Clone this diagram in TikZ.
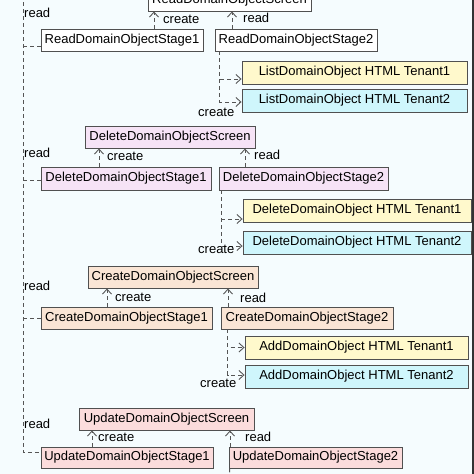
\documentclass[tikz,border=0pt]{standalone}
\usepackage{fontspec}
\setmainfont{Liberation Sans}
\usetikzlibrary{arrows.meta}
\definecolor{bgc}{HTML}{F5FCFE}
\definecolor{bordc}{HTML}{505050}
\definecolor{depc}{HTML}{555555}
\definecolor{delc}{HTML}{F6E3F6}
\definecolor{crec}{HTML}{FAE5D5}
\definecolor{updc}{HTML}{FBDCDC}
\definecolor{tone}{HTML}{FFF9CC}
\definecolor{ttwo}{HTML}{CFF6FC}
\begin{document}
\begin{tikzpicture}[x=1pt,y=-1pt,
  box/.style={draw=bordc, line width=0.9pt, inner sep=0pt, font=\fontsize{13}{15}\selectfont, minimum height=22pt},
  dep/.style={draw=depc, dash pattern=on 4pt off 3pt, line width=0.9pt},
  deparrow/.style={dep, -{Straight Barb[length=5pt,width=9pt]}},
  lbl/.style={font=\fontsize{13}{15}\selectfont, inner sep=0pt, anchor=west}]
\fill[bgc] (0,0) rectangle (474,474);
\useasboundingbox (0,0) rectangle (474,474);
\draw[line width=2pt, black!80] (473,0) -- (473,474);

% ---------- Read ----------
\node[box, fill=white, minimum width=163pt] (rs) at (229.5,0) {ReadDomainObjectScreen};
\node[box, fill=white, minimum width=162pt] (r1) at (122,40) {ReadDomainObjectStage1};
\node[box, fill=white, minimum width=162pt] (r2) at (296,40) {ReadDomainObjectStage2};
\node[box, fill=tone, minimum width=225pt, minimum height=23pt] (rt1) at (354.5,72.5) {ListDomainObject HTML Tenant1};
\node[box, fill=ttwo, minimum width=225pt, minimum height=23pt] (rt2) at (354.5,100.5) {ListDomainObject HTML Tenant2};
\draw[deparrow] ([xshift=32pt]r1.north) -- ([xshift=32pt]r1.north |- rs.south);
\draw[deparrow] ([xshift=-64pt]r2.north) -- ([xshift=-64pt]r2.north |- rs.south);
\draw[deparrow] ([xshift=5pt]r2.south west) |- ([yshift=-6.5pt]rt1.west);
\draw[deparrow] ([xshift=5pt]r2.south west) |- ([yshift=-1.5pt]rt2.west);
\node[lbl] (lr1) at (24,13) {read};
\node[lbl] (lr2) at (163,19) {create};
\node[lbl] (lr3) at (243,18) {read};
\node[lbl] (lr4) at (198,112) {create};

% ---------- Delete ----------
\node[box, fill=delc, minimum width=170pt] (ds) at (170,137) {DeleteDomainObjectScreen};
\node[box, fill=delc, minimum width=170pt, minimum height=23pt] (d1) at (126,178.5) {DeleteDomainObjectStage1};
\node[box, fill=delc, minimum width=169pt, minimum height=23pt] (d2) at (303.5,178.5) {DeleteDomainObjectStage2};
\node[box, fill=tone, minimum width=228pt, minimum height=23pt] (dt1) at (357,210.5) {DeleteDomainObject HTML Tenant1};
\node[box, fill=ttwo, minimum width=228pt, minimum height=23pt] (dt2) at (357,242.5) {DeleteDomainObject HTML Tenant2};
\draw[deparrow] ([xshift=-27pt]d1.north) -- ([xshift=-27pt]d1.north |- ds.south);
\draw[deparrow] ([xshift=-58.5pt]d2.north) -- ([xshift=-58.5pt]d2.north |- ds.south);
\draw[deparrow] ([xshift=3pt]d2.south west) |- ([yshift=-8.5pt]dt1.west);
\draw[deparrow] ([xshift=3pt]d2.south west) |- ([yshift=-3.5pt]dt2.west);
\node[lbl] (ld1) at (24,153) {read};
\node[lbl] (ld2) at (107,156) {create};
\node[lbl] (ld3) at (254,155) {read};
\node[lbl] (ld4) at (198,249) {create};

% ---------- Create ----------
\node[box, fill=crec, minimum width=170pt] (cs) at (173,277) {CreateDomainObjectScreen};
\node[box, fill=crec, minimum width=171pt] (c1) at (126.5,318) {CreateDomainObjectStage1};
\node[box, fill=crec, minimum width=172pt] (c2) at (307,318) {CreateDomainObjectStage2};
\node[box, fill=tone, minimum width=223pt, minimum height=23pt] (ct1) at (356.5,347.5) {AddDomainObject HTML Tenant1};
\node[box, fill=ttwo, minimum width=223pt, minimum height=23pt] (ct2) at (356.5,376.5) {AddDomainObject HTML Tenant2};
\draw[deparrow] ([xshift=-19.5pt]c1.north) -- ([xshift=-19.5pt]c1.north |- cs.south);
\draw[deparrow] ([xshift=-79pt]c2.north) -- ([xshift=-79pt]c2.north |- cs.south);
\draw[deparrow] ([xshift=7pt]c2.south west) |- (ct1.west);
\draw[deparrow] ([xshift=7pt]c2.south west) |- ([yshift=1.5pt]ct2.west);
\node[lbl] (lc1) at (24,286) {read};
\node[lbl] (lc2) at (115,297) {create};
\node[lbl] (lc3) at (240,298) {read};
\node[lbl] (lc4) at (200,383) {create};

% ---------- Update ----------
\node[box, fill=updc, minimum width=175pt] (us) at (166.5,419) {UpdateDomainObjectScreen};
\node[box, fill=updc, minimum width=172pt, minimum height=21pt] (u1) at (127,457.5) {UpdateDomainObjectStage1};
\node[box, fill=updc, minimum width=173pt, minimum height=21pt] (u2) at (315.5,457.5) {UpdateDomainObjectStage2};
\draw[deparrow] ([xshift=-35pt]u1.north) -- ([xshift=-35pt]u1.north |- us.south);
\draw[deparrow] ([xshift=-85.5pt]u2.north) -- ([xshift=-85.5pt]u2.north |- us.south);
\coordinate (uend) at (230,480);
\draw[dep] ([xshift=1pt]u2.south west) -- (uend);
\node[lbl] (lu1) at (24,424) {read};
\node[lbl] (lu2) at (98,437) {create};
\node[lbl] (lu3) at (245,437) {read};

% ---------- left read line ----------
\coordinate (lft) at (23,-5);
\draw[dep] (lft) |- ([yshift=5.5pt]u1.west);
\draw[dep] ([yshift=-6pt]r1.west) -- ++(-18,0);
\draw[dep] ([yshift=-1.5pt]d1.west) -- ++(-18,0);
\draw[dep] (c1.west) -- ++(-18,0);
\end{tikzpicture}
\end{document}
